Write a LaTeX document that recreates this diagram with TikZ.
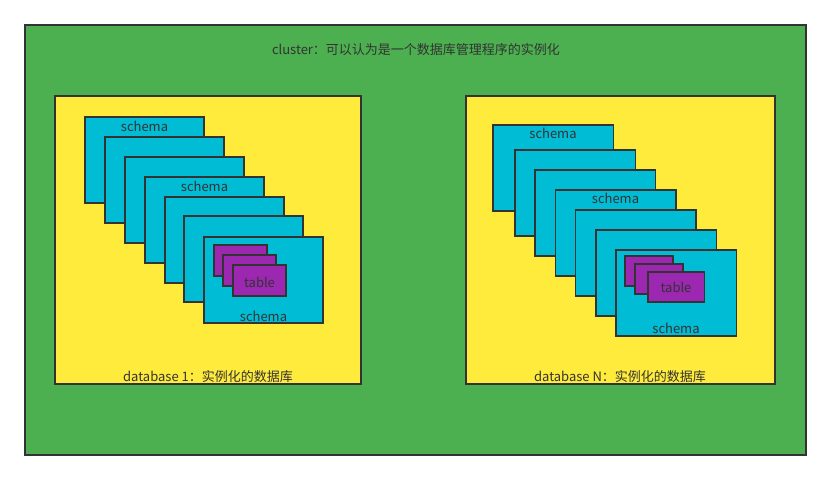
\documentclass[tikz,border=0pt]{standalone}
\usepackage{fontspec}
\setmainfont{Noto Sans CJK SC}
\definecolor{cgreen}{HTML}{4CAF50}
\definecolor{cyellow}{HTML}{FFEB3B}
\definecolor{ccyan}{HTML}{00BCD4}
\definecolor{cpurple}{HTML}{9C27B0}
\definecolor{cline}{HTML}{333333}
\newcommand\bx[6]{\node[#2, minimum width={#5pt-#3pt}, minimum height={#6pt-#4pt}] (#1) at ({(#3+#5)/2},{(#4+#6)/2}) {};}
\tikzset{
  base/.style={draw=cline, line width=1.5pt, inner sep=0pt, outer sep=0pt, rectangle},
  clusterbox/.style={base, fill=cgreen},
  dbbox/.style={base, fill=cyellow},
  schemabox/.style={base, fill=ccyan},
  tablebox/.style={base, fill=cpurple},
  txt/.style={text=cline, font=\fontsize{13}{15}\selectfont, inner sep=0pt}
}
\begin{document}
\begin{tikzpicture}[x=1pt,y=-1pt]
\useasboundingbox (0,0) rectangle (831,480);
\bx{cluster}{clusterbox}{25}{25}{806}{455}
\node[txt] (title) at (416,50) {cluster：可以认为是一个数据库管理程序的实例化};
% database 1
\bx{db1}{dbbox}{55}{96}{361}{384}
\bx{a1}{schemabox}{85}{117}{204}{203}
\bx{a2}{schemabox}{105}{137}{224}{223}
\bx{a3}{schemabox}{125}{157}{244}{243}
\bx{a4}{schemabox}{145}{177}{264}{263}
\bx{a5}{schemabox}{165}{197}{284}{283}
\bx{a6}{schemabox}{184}{216}{303}{302}
\bx{a7}{schemabox}{204}{237}{323}{323}
\bx{at1}{tablebox}{214}{245}{267}{276}
\bx{at2}{tablebox}{223}{255}{276}{286}
\bx{at3}{tablebox}{233}{265}{286}{296}
\node[txt] (la1) at (144.5,126) {schema};
\node[txt] (la4) at (204.5,186) {schema};
\node[txt] (la7) at (263.5,316) {schema};
\node[txt] (lat) at (259.5,282) {table};
\node[txt] (ldb1) at (208,376.5) {database 1：实例化的数据库};
% database N
\bx{dbN}{dbbox}{466}{96}{775}{384}
\bx{b1}{schemabox}{493}{125}{613.5}{211}
\bx{b2}{schemabox}{515}{150}{635.5}{236}
\bx{b3}{schemabox}{535}{170}{655.5}{256}
\bx{b4}{schemabox}{555.5}{190}{676}{276}
\bx{b5}{schemabox}{575.5}{210}{696}{296}
\bx{b6}{schemabox}{596}{230}{716.5}{316}
\bx{b7}{schemabox}{616}{250}{736.5}{336}
\bx{bt1}{tablebox}{625}{256}{673}{286}
\bx{bt2}{tablebox}{635}{264}{683}{294}
\bx{bt3}{tablebox}{648}{272}{704.5}{302}
\node[txt] (lb1) at (553,133.5) {schema};
\node[txt] (lb4) at (615.5,198.5) {schema};
\node[txt] (lb7) at (676,328.5) {schema};
\node[txt] (lbt) at (676,287.5) {table};
\node[txt] (ldbN) at (620,377) {database N：实例化的数据库};
\end{tikzpicture}
\end{document}
